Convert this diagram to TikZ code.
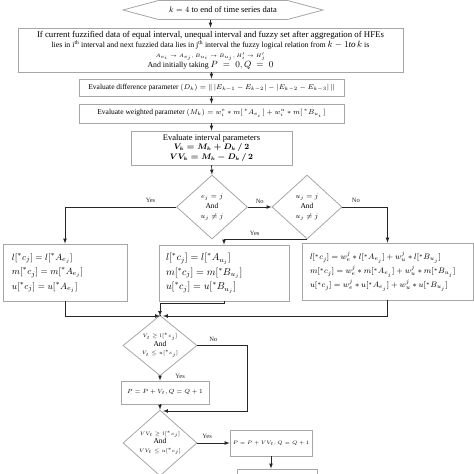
\documentclass[tikz,border=0pt]{standalone}
\usepackage{amsmath}
\usepackage{fontspec}
\setmainfont{Liberation Serif}
\usetikzlibrary{shapes.geometric,shapes.symbols}

\begin{document}
\begin{tikzpicture}[x=1pt,y=-1pt,
    box/.style={draw=gray!70, line width=0.8pt, rectangle, inner sep=1pt, font=\fontsize{7.5}{8}\selectfont},
    dec/.style={draw=gray!70, line width=0.8pt, diamond, inner sep=0pt, align=center, font=\fontsize{7.5}{10}\selectfont},
    lbl/.style={font=\fontsize{6.5}{7}\selectfont, inner sep=1pt},
    arr/.style={-latex, line width=0.7pt, black!85},
    con/.style={line width=0.7pt, black!85}]
  \useasboundingbox (0,0) rectangle (474,474);
  \clip (0,0) rectangle (474,474);
  % top of the loop
  \node[draw=gray!70, line width=0.8pt, signal, signal to=west and east, signal pointer angle=30,
        minimum width=200pt, minimum height=19pt, inner sep=0pt, font=\fontsize{8.5}{9}\selectfont] (start) at (223,10)
        {$k = 4$ to end of time series data};
  \node[box, minimum width=385pt, minimum height=44pt, align=center, font=\fontsize{7.8}{10}\selectfont] (rel) at (210.5,50)
        {{\fontsize{8.8}{10}\selectfont If current fuzzified data of equal interval, unequal interval and fuzzy set after aggregation of HFEs}\\
         lies in i$^{\mathrm{th}}$ interval and next fuzzied data lies in j$^{\mathrm{th}}$ interval the fuzzy logical relation from {\fontsize{9}{10}\selectfont$k-1\mathit{to}\,k$} is\\
         {\fontsize{5.5}{6}\selectfont$A_{e_i}\rightarrow A_{e_j}, B_{u_i}\rightarrow B_{u_j}, H'_i\rightarrow H'_j$}\\
         And initially taking {\fontsize{9.5}{10}\selectfont$P\;=\;0, Q\;=\;0$}};
  \node[box, minimum width=265pt, minimum height=17pt] (diff) at (211.5,87.5)
        {Evaluate difference parameter $(D_k) = \|\,|E_{k-1}-E_{k-2}|-|E_{k-2}-E_{k-3}|\,\|$};
  \node[box, minimum width=265pt, minimum height=19pt] (wgt) at (211.5,113.5)
        {Evaluate weighted parameter $(M_k) = w_i^e * m[\,{}^{*}A_{e_i}\,] + w_i^u * m[\,{}^{*}B_{u_i}\,]$};
  \node[box, minimum width=161pt, minimum height=34pt, align=center, font=\fontsize{8.5}{9.2}\selectfont] (intv) at (211.5,148)
        {Evaluate interval parameters\\ {\fontsize{7.8}{9.2}\selectfont$\boldsymbol{V_k = M_k + D_k\,/\,2}$}\\ {\fontsize{7.8}{9.2}\selectfont$\boldsymbol{VV_k = M_k - D_k\,/\,2}$}};
  % the two tests
  \node[dec, minimum width=71pt, minimum height=64pt] (dec1) at (212,207) {$e_j = j$\\ And\\ $u_j \neq j$};
  \node[dec, minimum width=70pt, minimum height=64pt] (dec2) at (307,207) {$u_j = j$\\ And\\ $u_j \neq j$};
  \node[box, minimum width=124pt, minimum height=57pt, align=left, text width=106pt, font=\fontsize{9.5}{14.5}\selectfont] (caseL) at (65,272.5)
        {$l[{}^{*}c_j] = l[{}^{*}A_{e_j}]$\\ $m[{}^{*}c_j] = m[{}^{*}A_{e_j}]$\\ $u[{}^{*}c_j] = u[{}^{*}A_{e_j}]$};
  \node[box, minimum width=130pt, minimum height=56pt, align=left, text width=116pt, font=\fontsize{10}{14.5}\selectfont] (caseM) at (224,273)
        {$l[{}^{*}c_j] = l[{}^{*}A_{u_j}]$\\ $m[{}^{*}c_j] = m[{}^{*}B_{u_j}]$\\ $u[{}^{*}c_j] = u[{}^{*}B_{u_j}]$};
  \node[box, minimum width=171pt, minimum height=57pt, align=left, text width=155pt, font=\fontsize{8.5}{14}\selectfont] (caseR) at (387.5,271.5)
        {$l[{}^{*}c_j] = w_e^j * l[{}^{*}A_{e_j}] + w_u^j * l[{}^{*}B_{u_j}]$\\
         $m[{}^{*}c_j] = w_e^j * m[{}^{*}A_{e_j}] + w_u^j * m[{}^{*}B_{u_j}]$\\
         $u[{}^{*}c_j] = w_e^j * u[{}^{*}A_{e_j}] + w_u^j * u[{}^{*}B_{u_j}]$};
  \coordinate (join1) at (160,316);
  % bounds on V and VV
  \node[dec, minimum width=74pt, minimum height=55pt, font=\fontsize{5}{8.5}\selectfont] (dec3) at (160,345.5)
        {$V_t \geq l[{}^{*}c_j]$\\ {\fontsize{7.5}{8}\selectfont And}\\ $V_t \leq u[{}^{*}c_j]$};
  \node[box, minimum width=88pt, minimum height=23pt, font=\fontsize{6.5}{8}\selectfont] (addV) at (165,392.5) {$P = P + V_t, Q = Q + 1$};
  \coordinate (join2) at (160,411);
  \node[dec, minimum width=74pt, minimum height=54pt, font=\fontsize{5}{8.5}\selectfont] (dec4) at (160,443)
        {$VV_t \geq l[{}^{*}c_j]$\\ {\fontsize{7.5}{8}\selectfont And}\\ $VV_t \leq u[{}^{*}c_j]$};
  \node[box, minimum width=82pt, minimum height=26pt, font=\fontsize{5.5}{7}\selectfont] (addVV) at (271,443) {$P = P + VV_t, Q = Q + 1$};
  \node[box, minimum width=80pt, minimum height=20pt] (nxt) at (277,479) {};
  % connectors
  \draw[arr] (rel.north |- start.south) -- (rel.north);
  \draw[arr] (rel.south -| diff.north) -- (diff.north);
  \draw[arr] (diff.south) -- (wgt.north);
  \draw[arr] (wgt.south) -- (intv.north);
  \draw[arr] (intv.south) -- (dec1.north);
  \draw[arr] (dec1.east) -- node[lbl, above=2pt] {No} (dec2.west);
  \draw[arr] (dec1.west) -- node[lbl, above=3pt, pos=0.23] {Yes} (caseL.north |- dec1.west) -- (caseL.north);
  \draw[arr] (dec2.east) -- node[lbl, above=3pt, pos=0.3] {No} (caseR.north |- dec2.east) -- (caseR.north);
  \draw[arr] (dec2.south) -- node[lbl, above=2pt, pos=0.63] {Yes} (dec2.south -| caseM.north) -- (caseM.north);
  \draw[arr] (caseL.south) |- (join1);
  \draw[arr] (caseM.south) -- ++(0,2) -| (join1);
  \draw[arr] (caseR.south) |- ([xshift=3pt]join1);
  \draw[con] (join1) -- (dec3.north);
  \draw[arr] (dec3.south) -- node[lbl, right=14pt, pos=0.1] {Yes} (dec3.south |- addV.north);
  \draw[arr] (dec3.east) -- node[lbl, above=3pt, pos=0.32] {No} (247,345.5) |- ([xshift=3pt]join2);
  \draw[arr] (join2 |- addV.south) -- (dec4.north);
  \draw[arr] (dec4.east) -- node[lbl, above=3pt, pos=0.3] {Yes} (addVV.west);
  \draw[arr] (addVV.south) -- (addVV.south |- nxt.north);
  \draw[con] (dec4.south) -- ++(0,10);
\end{tikzpicture}
\end{document}
